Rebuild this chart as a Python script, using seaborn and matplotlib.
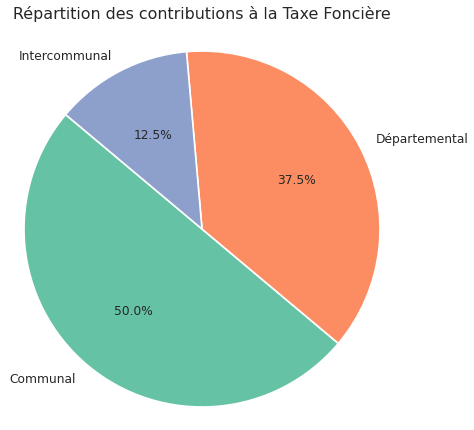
import matplotlib
matplotlib.use("Agg")
import matplotlib.pyplot as plt
import seaborn as sns

# données
labels = ["Communal", "Départemental", "Intercommunal"]
parts = [50.0, 37.5, 12.5]

sns.set_theme(style="white")
plt.rcParams['font.family'] = ['DejaVu Sans']
colors = sns.color_palette("Set2", 3)

fig = plt.figure(figsize=(4.74, 4.31), dpi=100)
# centre du camembert ~ (202, 230) px, rayon ~ 178 px
ax = fig.add_axes([24 / 474, 23 / 431, 356 / 474, 356 / 431])
ax.pie(parts, labels=labels, colors=colors, autopct="%1.1f%%", startangle=140,
       wedgeprops={"edgecolor": "white", "linewidth": 1.2},
       textprops={"fontsize": 8.8, "color": "#262626"}, labeldistance=1.1)
ax.set_xlim(-1, 1)
ax.set_ylim(-1, 1)
ax.set_aspect("equal")
fig.text(202 / 474, 1 - 14 / 431, "Répartition des contributions à la Taxe Foncière",
         ha="center", va="center", fontsize=11.4, color="#262626")

fig.savefig("out.png", dpi=100)
